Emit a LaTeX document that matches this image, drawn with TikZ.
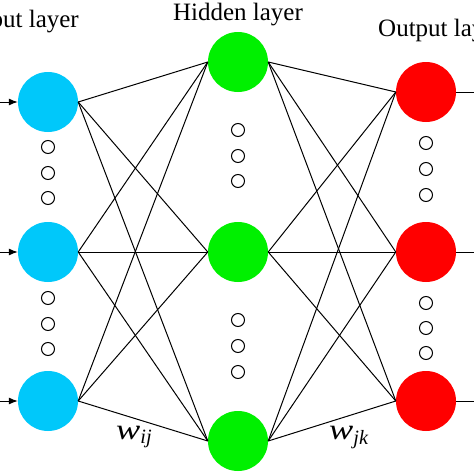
\documentclass[tikz,border=0pt]{standalone}
\usepackage{fontspec}
\setmainfont{Liberation Serif}
\usetikzlibrary{arrows.meta}
\definecolor{incol}{RGB}{0,200,250}
\definecolor{hidcol}{RGB}{0,240,0}
\definecolor{outcol}{RGB}{255,0,0}
\tikzset{
  neuron/.style={circle,minimum size=60pt,inner sep=0pt,draw=none},
  innode/.style={neuron,fill=incol},
  hidnode/.style={neuron,fill=hidcol},
  outnode/.style={neuron,fill=outcol},
  dotnode/.style={circle,draw=black,line width=1pt,minimum size=13pt,inner sep=0pt},
  conn/.style={draw=black,line width=1pt},
  lab/.style={font=\fontsize{25}{28}\selectfont,inner sep=0pt},
  wlab/.style={font=\fontsize{29}{32}\selectfont\itshape,inner sep=0pt,anchor=base west},
}
\begin{document}
\begin{tikzpicture}[x=1pt,y=-1pt]
\useasboundingbox (0,0) rectangle (474,474);
\clip (0,0) rectangle (474,474);
\fill[white] (0,0) rectangle (474,474);
% layers
\node[innode] (i1) at (48,102) {};
\node[innode] (i2) at (48,252) {};
\node[innode] (i3) at (48,401) {};
\node[hidnode] (h1) at (238,62) {};
\node[hidnode] (h2) at (238,252) {};
\node[hidnode] (h3) at (238,441) {};
\node[outnode] (o1) at (426,92) {};
\node[outnode] (o2) at (426,252) {};
\node[outnode] (o3) at (426,401) {};
% connections
\foreach \a in {i1,i2,i3}{\foreach \b in {h1,h2,h3}{\draw[conn] (\a.east) -- (\b.west);}}
\foreach \a in {h1,h2,h3}{\foreach \b in {o1,o2,o3}{\draw[conn] (\a.east) -- (\b.west);}}
% inputs
\coordinate (s1) at (0,102);
\coordinate (s2) at (0,252);
\coordinate (s3) at (0,401);
\foreach \n in {1,2,3}{\draw[conn,-{Latex[length=9pt,width=7pt]}] (s\n) -- (i\n.west);}
\coordinate (e1) at (474,92);
\coordinate (e2) at (474,252);
\coordinate (e3) at (474,401);
\foreach \n in {1,2,3}{\draw[conn] (o\n.east) -- (e\n);}
% dots
\foreach \y [count=\k] in {147,173,198,298,324,349}{\node[dotnode] (di\k) at (48,\y) {};}
\foreach \y [count=\k] in {130,156,181,320,346,372}{\node[dotnode] (dh\k) at (238,\y) {};}
\foreach \y [count=\k] in {143,169,195,303,328,353}{\node[dotnode] (do\k) at (426,\y) {};}
% titles
\node[lab,anchor=base east] (tin) at (79,27) {Input layer};
\node[lab,anchor=base] (thid) at (238,20) {Hidden layer};
\node[lab,anchor=base west] (tout) at (378,36) {Output layer};
% weights
\node[wlab] (wij) at (116,439) {\scalebox{1.25}[1]{w}\textsubscript{ij}};
\node[wlab] (wjk) at (329,439) {\scalebox{1.25}[1]{w}\textsubscript{jk}};
\end{tikzpicture}
\end{document}
